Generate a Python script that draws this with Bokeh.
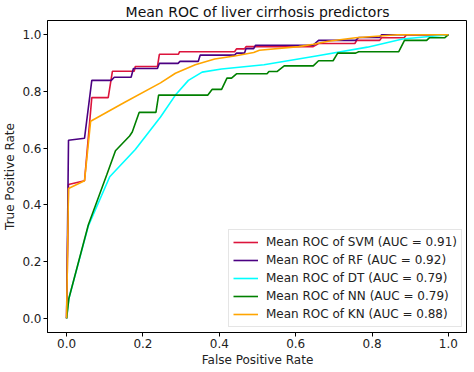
from bokeh.plotting import figure
from bokeh.models import Range1d, FixedTicker, PrintfTickFormatter
from bokeh.embed import file_html
from bokeh.resources import INLINE

# ---- data ----
svm_fpr = [0, 0.005, 0.047, 0.066, 0.109, 0.12, 0.177, 0.18, 0.238, 0.243, 0.293, 0.296,
           0.44, 0.445, 0.466, 0.47, 0.646, 0.66, 0.755, 0.76, 0.82, 0.825, 0.884, 0.89, 1.0]
svm_tpr = [0, 0.472, 0.485, 0.778, 0.778, 0.871, 0.871, 0.888, 0.888, 0.931, 0.931, 0.94,
           0.94, 0.95, 0.95, 0.958, 0.958, 0.969, 0.969, 0.98, 0.98, 0.989, 0.989, 1.0, 1.0]

rf_fpr = [0, 0.005, 0.047, 0.066, 0.117, 0.125, 0.169, 0.175, 0.238, 0.243, 0.292, 0.297,
          0.345, 0.35, 0.44, 0.445, 0.466, 0.47, 0.49, 0.495, 0.646, 0.66, 0.757, 0.765,
          0.82, 0.825, 1.0]
rf_tpr = [0, 0.628, 0.635, 0.839, 0.839, 0.85, 0.85, 0.881, 0.881, 0.899, 0.899, 0.906,
          0.906, 0.928, 0.928, 0.935, 0.935, 0.951, 0.951, 0.963, 0.963, 0.98, 0.98, 0.99,
          0.99, 1.0, 1.0]

dt_fpr = [0, 0.006, 0.057, 0.113, 0.18, 0.246, 0.285, 0.319, 0.355, 0.406, 0.517, 0.65,
          0.788, 0.88, 1.0]
dt_tpr = [0, 0.07, 0.326, 0.499, 0.595, 0.71, 0.787, 0.839, 0.868, 0.879, 0.894, 0.924,
          0.956, 0.985, 1.0]

nn_fpr = [0, 0.006, 0.057, 0.105, 0.128, 0.165, 0.172, 0.19, 0.234, 0.241, 0.37, 0.381,
          0.406, 0.42, 0.432, 0.445, 0.525, 0.53, 0.551, 0.57, 0.646, 0.66, 0.698, 0.71,
          0.757, 0.765, 0.87, 0.885, 0.943, 0.95, 0.99, 1.0]
nn_tpr = [0, 0.07, 0.33, 0.505, 0.591, 0.643, 0.657, 0.726, 0.726, 0.787, 0.787, 0.807,
          0.807, 0.847, 0.847, 0.862, 0.862, 0.87, 0.87, 0.89, 0.89, 0.908, 0.908, 0.935,
          0.935, 0.94, 0.94, 0.98, 0.98, 0.989, 0.989, 1.0]

kn_fpr = [0, 0.005, 0.047, 0.063, 0.15, 0.246, 0.285, 0.337, 0.388, 0.44, 0.49, 0.505,
          0.608, 0.646, 0.685, 0.757, 0.866, 1.0]
kn_tpr = [0, 0.458, 0.485, 0.695, 0.76, 0.83, 0.864, 0.894, 0.914, 0.925, 0.937, 0.945,
          0.958, 0.966, 0.977, 0.989, 1.0, 1.0]

labels = ["Mean ROC of SVM (AUC = 0.91)", "Mean ROC of RF (AUC = 0.92)",
          "Mean ROC of DT (AUC = 0.79)", "Mean ROC of NN (AUC = 0.79)",
          "Mean ROC of KN (AUC = 0.88)"]
colors = ["#dc143c", "#4b0082", "#00ffff", "#008000", "#ffa500"]
ticks = [0.0, 0.2, 0.4, 0.6, 0.8, 1.0]

FONT = "DejaVu Sans"

p = figure(frame_width=420, frame_height=312, output_backend="svg", toolbar_location=None,
           title="Mean ROC of liver cirrhosis predictors",
           x_range=Range1d(-0.05, 1.05), y_range=Range1d(-0.05, 1.05),
           min_border_left=0, min_border_right=0, min_border_top=0, min_border_bottom=0)

p.title.align = "center"
p.title.text_font = FONT
p.title.text_font_size = "14px"
p.title.text_font_style = "normal"
p.title.text_color = "#111111"
p.title.offset = 0
p.title.standoff = 2

p.grid.visible = False
p.outline_line_color = "black"
p.outline_line_alpha = 1
p.outline_line_width = 1
p.background_fill_color = "white"
p.border_fill_color = "white"

for ax in (p.xaxis[0], p.yaxis[0]):
    ax.ticker = FixedTicker(ticks=ticks)
    ax.formatter = PrintfTickFormatter(format="%.1f")
    ax.major_tick_in = 0
    ax.major_tick_out = 4
    ax.minor_tick_line_color = None
    ax.major_tick_line_color = "black"
    ax.axis_line_color = "black"
    ax.major_label_text_font = FONT
    ax.major_label_text_font_size = "12px"
    ax.major_label_text_color = "#222222"
    ax.major_label_standoff = 2
    ax.axis_label_text_font = FONT
    ax.axis_label_text_font_size = "12px"
    ax.axis_label_text_font_style = "normal"
    ax.axis_label_text_color = "#222222"
    ax.axis_label_standoff = 2

p.xaxis.axis_label = "False Positive Rate"
p.yaxis.axis_label = "True Positive Rate"

series = [(svm_fpr, svm_tpr), (rf_fpr, rf_tpr), (dt_fpr, dt_tpr), (nn_fpr, nn_tpr), (kn_fpr, kn_tpr)]
for (xs, ys), c, lab in zip(series, colors, labels):
    p.line(xs, ys, line_color=c, line_width=1.6, legend_label=lab)

lg = p.legend[0]
lg.location = "bottom_right"
lg.label_text_font = FONT
lg.label_text_font_size = "12px"
lg.label_text_color = "#222222"
lg.glyph_width = 25
lg.glyph_height = 16
lg.label_height = 16
lg.label_standoff = 8
lg.spacing = 2
lg.padding = 4
lg.margin = 5
lg.border_line_color = "#cccccc"
lg.border_line_width = 1
lg.background_fill_alpha = 0.85

open("out.html", "w").write(file_html(p, INLINE))
